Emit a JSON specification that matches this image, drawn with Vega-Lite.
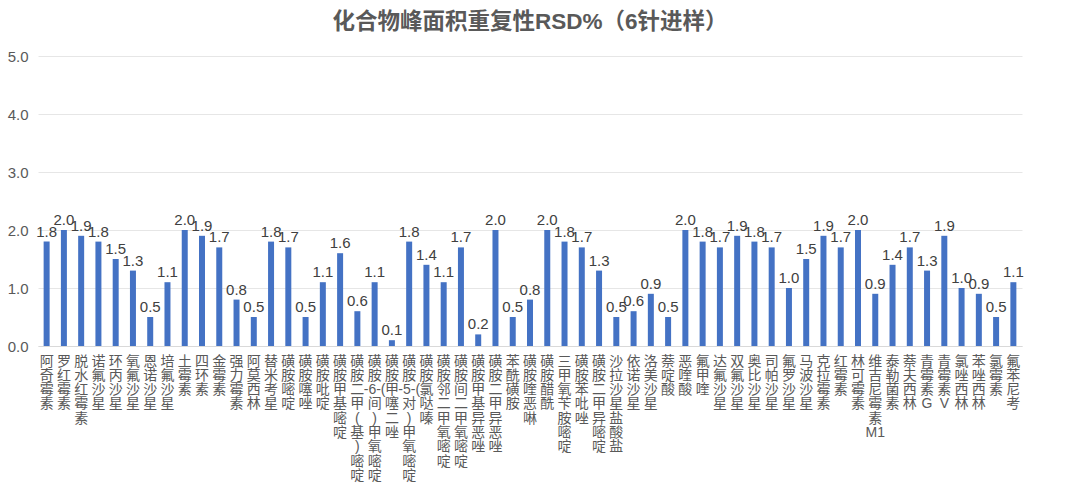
{
  "$schema": "https://vega.github.io/schema/vega-lite/v6.json",
  "autosize": "none",
  "width": 984,
  "height": 290,
  "padding": {"left": 38, "top": 56, "right": 58, "bottom": 149},
  "background": "white",
  "title": {
    "text": "化合物峰面积重复性RSD%（6针进样）",
    "fontSize": 22.5,
    "fontWeight": "bold",
    "color": "#595959",
    "font": "Liberation Sans, Noto Sans CJK SC",
    "anchor": "middle",
    "offset": 16
  },
  "data": {
    "values": [
      {"name": "阿奇霉素", "rsd": 1.8},
      {"name": "罗红霉素", "rsd": 2.0},
      {"name": "脱水红霉素", "rsd": 1.9},
      {"name": "诺氟沙星", "rsd": 1.8},
      {"name": "环丙沙星", "rsd": 1.5},
      {"name": "氧氟沙星", "rsd": 1.3},
      {"name": "恩诺沙星", "rsd": 0.5},
      {"name": "培氟沙星", "rsd": 1.1},
      {"name": "土霉素", "rsd": 2.0},
      {"name": "四环素", "rsd": 1.9},
      {"name": "金霉素", "rsd": 1.7},
      {"name": "强力霉素", "rsd": 0.8},
      {"name": "阿莫西林", "rsd": 0.5},
      {"name": "替米考星", "rsd": 1.8},
      {"name": "磺胺嘧啶", "rsd": 1.7},
      {"name": "磺胺噻唑", "rsd": 0.5},
      {"name": "磺胺吡啶", "rsd": 1.1},
      {"name": "磺胺甲基嘧啶", "rsd": 1.6},
      {"name": "磺胺二甲(基)嘧啶", "rsd": 0.6},
      {"name": "磺胺-6-(间)甲氧嘧啶", "rsd": 1.1},
      {"name": "磺胺甲噻二唑", "rsd": 0.1},
      {"name": "磺胺-5-(对)甲氧嘧啶", "rsd": 1.8},
      {"name": "磺胺氯哒嗪", "rsd": 1.4},
      {"name": "磺胺邻二甲氧嘧啶", "rsd": 1.1},
      {"name": "磺胺间二甲氧嘧啶", "rsd": 1.7},
      {"name": "磺胺甲基异恶唑", "rsd": 0.2},
      {"name": "磺胺二甲异恶唑", "rsd": 2.0},
      {"name": "苯酰磺胺", "rsd": 0.5},
      {"name": "磺胺喹恶啉", "rsd": 0.8},
      {"name": "磺胺醋酰", "rsd": 2.0},
      {"name": "三甲氧苄胺嘧啶", "rsd": 1.8},
      {"name": "磺胺苯吡唑", "rsd": 1.7},
      {"name": "磺胺二甲异嘧啶", "rsd": 1.3},
      {"name": "沙拉沙星盐酸盐", "rsd": 0.5},
      {"name": "依诺沙星", "rsd": 0.6},
      {"name": "洛美沙星", "rsd": 0.9},
      {"name": "萘啶酸", "rsd": 0.5},
      {"name": "恶喹酸", "rsd": 2.0},
      {"name": "氟甲喹", "rsd": 1.8},
      {"name": "达氟沙星", "rsd": 1.7},
      {"name": "双氟沙星", "rsd": 1.9},
      {"name": "奥比沙星", "rsd": 1.8},
      {"name": "司帕沙星", "rsd": 1.7},
      {"name": "氟罗沙星", "rsd": 1.0},
      {"name": "马波沙星", "rsd": 1.5},
      {"name": "克拉霉素", "rsd": 1.9},
      {"name": "红霉素", "rsd": 1.7},
      {"name": "林可霉素", "rsd": 2.0},
      {"name": "维吉尼霉素 M1", "rsd": 0.9},
      {"name": "泰勒菌素", "rsd": 1.4},
      {"name": "萘夫西林", "rsd": 1.7},
      {"name": "青霉素G", "rsd": 1.3},
      {"name": "青霉素V", "rsd": 1.9},
      {"name": "氯唑西林", "rsd": 1.0},
      {"name": "苯唑西林", "rsd": 0.9},
      {"name": "氯霉素", "rsd": 0.5},
      {"name": "氟苯尼考", "rsd": 1.1}
    ]
  },
  "encoding": {
    "x": {
      "field": "name",
      "type": "nominal",
      "sort": null,
      "title": null,
      "scale": {"paddingInner": 0, "paddingOuter": 0},
      "axis": {
        "labelAngle": 0,
        "labelAlign": "center",
        "labelBaseline": "top",
        "labelExpr": "split(datum.label, regexp('(?<=[\\u4e00-\\u9fff])|(?=[\\u4e00-\\u9fff])'))",
        "labelLineHeight": 14.3,
        "labelFontSize": 14,
        "labelColor": "#595959",
        "labelPadding": 8,
        "labelOverlap": false,
        "labelLimit": 0,
        "ticks": false,
        "domainColor": "#d9d9d9",
        "domainWidth": 1
      }
    },
    "y": {
      "field": "rsd",
      "type": "quantitative",
      "title": null,
      "scale": {"domain": [0, 5]},
      "axis": {
        "values": [0, 1, 2, 3, 4, 5],
        "format": ".1f",
        "labelFontSize": 15,
        "labelColor": "#595959",
        "labelPadding": 10,
        "ticks": false,
        "domain": false,
        "gridColor": "#e6e6e6",
        "gridWidth": 1
      }
    }
  },
  "layer": [
    {
      "mark": {"type": "bar", "size": 6, "color": "#4472C4"}
    },
    {
      "mark": {
        "type": "text",
        "baseline": "bottom",
        "dy": -2,
        "fontSize": 15,
        "color": "#404040"
      },
      "encoding": {
        "text": {"field": "rsd", "type": "quantitative", "format": ".1f"}
      }
    }
  ],
  "config": {
    "font": "Liberation Sans, Noto Sans CJK SC",
    "view": {"stroke": null}
  }
}
